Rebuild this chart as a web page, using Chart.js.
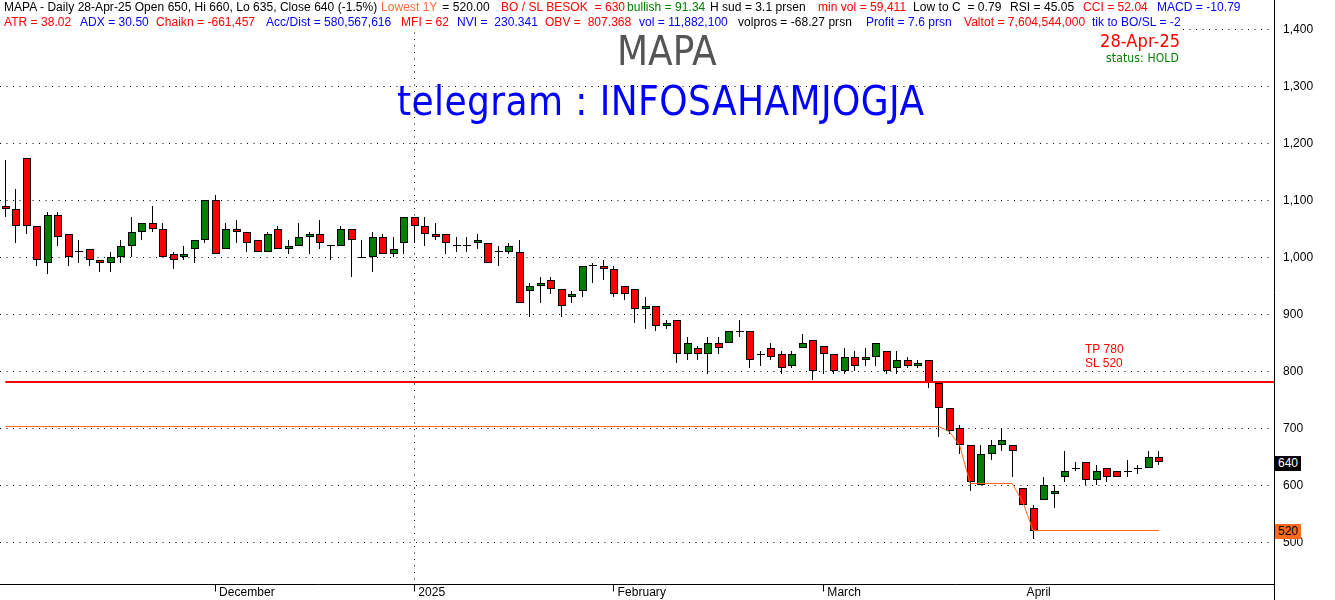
<!DOCTYPE html>
<html>
<head>
<meta charset="utf-8">
<title>MAPA</title>
<script src="https://cdn.jsdelivr.net/npm/chart.js@4"></script>
<style>
html, body { margin: 0; padding: 0; background: #fff; }
#wrap { position: relative; width: 1335px; height: 600px; overflow: hidden; font: 12px "Liberation Sans", Arial, sans-serif; letter-spacing: 0.04px; }
#wrap span { position: absolute; white-space: pre; line-height: 14px; }
#row2bg { position: absolute; left: 0; top: 0; width: 1180px; height: 32px; background: #fff; }
#axisEnd { position: absolute; left: 1274px; top: 584px; width: 1px; height: 16px; background: #000; }
canvas { position: absolute; left: 0; top: 0; }
.r { color: #ff0000; } .b { color: #0000ff; } .k { color: #000; } .g { color: #008000; } .o { color: #ff6a3c; }
#mapa { left: 617px; top: 28px; font: 40px "DejaVu Sans Condensed", "DejaVu Sans", sans-serif; font-stretch: condensed; color: #555; line-height: 46px !important; }
#tele { left: 397px; top: 78px; font: 40px "DejaVu Sans Condensed", "DejaVu Sans", sans-serif; font-stretch: condensed; letter-spacing: 0.42px; color: #0000ff; line-height: 46px !important; }
#date { left: 1100px; top: 31px; font: 18px "DejaVu Sans Condensed", "DejaVu Sans", sans-serif; font-stretch: condensed; letter-spacing: 0.1px; color: #ff0000; line-height: 20px !important; }
#stat { left: 1106px; top: 51px; font: 12px "DejaVu Sans Condensed", "DejaVu Sans", sans-serif; font-stretch: condensed; letter-spacing: 0.15px; color: #008000; }
.badge { left: 1275px; width: 26px; height: 15px; line-height: 15px !important; text-align: center; }
</style>
</head>
<body>
<div id="wrap">
<canvas id="grafica" width="1335" height="600"></canvas>
<div id="axisEnd"></div>
<div id="row2bg"></div>
<span class="k" style="left:4px;top:0">MAPA - Daily 28-Apr-25 Open 650, Hi 660, Lo 635, Close 640 (-1.5%)</span>
<span class="o" style="left:381px;top:0">Lowest 1Y</span>
<span class="k" style="left:439px;top:0"> = 520.00</span>
<span class="r" style="left:501px;top:0">BO / SL BESOK  = 630</span>
<span class="g" style="left:627px;top:0">bullish = 91.34</span>
<span class="k" style="left:710px;top:0">H sud = 3.1 prsen</span>
<span class="r" style="left:818px;top:0">min vol = 59,411</span>
<span class="k" style="left:913px;top:0">Low to C  = 0.79</span>
<span class="k" style="left:1010px;top:0">RSI = 45.05</span>
<span class="r" style="left:1083px;top:0">CCI = 52.04</span>
<span class="b" style="left:1157px;top:0">MACD = -10.79</span>
<span class="r" style="left:4px;top:15px">ATR = 38.02</span>
<span class="b" style="left:80px;top:15px">ADX = 30.50</span>
<span class="r" style="left:156px;top:15px">Chaikn = -661,457</span>
<span class="b" style="left:266px;top:15px">Acc/Dist = 580,567,616</span>
<span class="r" style="left:401px;top:15px">MFI = 62</span>
<span class="b" style="left:457px;top:15px">NVI =  230.341</span>
<span class="r" style="left:545px;top:15px">OBV =  807.368</span>
<span class="b" style="left:639px;top:15px">vol = 11,882,100</span>
<span class="k" style="left:738px;top:15px">volpros = -68.27 prsn</span>
<span class="b" style="left:866px;top:15px">Profit = 7.6 prsn</span>
<span class="r" style="left:964px;top:15px">Valtot = 7,604,544,000</span>
<span class="b" style="left:1092px;top:15px">tik to BO/SL = -2</span>
<span id="mapa">MAPA</span>
<span id="tele">telegram : INFOSAHAMJOGJA</span>
<span id="date">28-Apr-25</span>
<span id="stat">status: HOLD</span>
<span class="r" style="left:1085px;top:342px">TP 780</span>
<span class="r" style="left:1085px;top:356px">SL 520</span>
<span class="badge" style="top:456px;background:#000;color:#fff">640</span>
<span class="badge" style="top:524px;background:#ff6a1f;color:#000">520</span>
</div>
<script>
// daily candles, one entry per trading day
const opens = [1090,1085,1175,1055,990,1075,1040,1010,1015,995,990,1000,1020,1045,1060,1050,1005,1000,1015,1030,
    1100,1015,1050,1045,1030,1010,1050,1015,1020,1035,1040,1020,1020,1050,1000,1000,1035,1005,1025,1070,
    1055,1040,1040,1020,1020,1025,1025,1010,1010,1010,940,950,960,945,930,940,985,985,980,950,
    945,910,915,880,890,830,840,830,850,850,870,870,830,840,830,810,840,855,845,830,
    800,825,820,825,835,805,820,810,820,780,735,700,670,600,655,670,670,595,560,575,
    585,615,630,640,610,630,625,625,630,630,650];
const highs = [1170,1120,1175,1055,1080,1080,1040,1030,1015,995,1010,1030,1070,1060,1090,1060,1010,1020,1030,1100,
    1110,1060,1065,1045,1030,1045,1055,1030,1060,1045,1065,1020,1055,1050,1030,1045,1040,1035,1070,1070,
    1070,1060,1040,1035,1035,1040,1025,1020,1025,1030,955,965,965,945,940,985,990,995,985,950,
    945,930,915,890,890,860,845,860,860,870,890,870,835,850,835,835,865,855,845,830,
    840,835,840,850,835,835,825,820,820,780,735,705,670,670,680,700,670,595,565,615,
    600,660,640,640,635,630,625,645,635,660,660];
const lows = [1070,1025,1040,985,970,1020,985,990,985,975,975,990,1000,1030,1045,1000,980,995,990,1025,
    1005,1015,1025,1010,1010,1010,1015,1005,1020,1005,1015,995,1020,965,1000,975,1005,1000,1005,1025,
    1020,1030,1005,1010,1010,1015,990,985,1005,920,895,920,935,895,920,930,955,960,930,925,
    885,875,870,875,815,820,820,795,830,850,860,805,810,820,795,805,840,785,795,795,
    795,800,810,810,795,795,805,805,770,685,690,655,590,600,645,660,615,565,505,575,
    560,605,625,600,600,605,615,615,620,630,635];
const closes = [1085,1055,1055,995,1075,1035,1000,1010,995,990,1000,1020,1045,1060,1050,1000,995,1005,1030,1100,
    1005,1050,1045,1025,1010,1040,1015,1020,1035,1040,1025,1020,1050,1030,1000,1035,1005,1015,1070,1055,
    1040,1035,1025,1020,1020,1030,990,1010,1020,920,950,955,945,915,935,985,985,980,935,935,
    910,915,880,885,830,850,830,850,840,870,870,820,830,825,805,830,850,800,830,800,
    825,810,825,850,800,820,810,815,780,735,695,670,605,655,670,680,660,565,520,600,
    590,625,630,610,625,615,615,625,630,650,640];

const yTicks = [500,600,700,800,900,1000,1100,1200,1300,1400];
const monthTicks = [20,39,58,78,97];
const monthNames = ['December','2025','February','March','April'];

const tpLevel = 780;
const stopIdx = [0,89,90,91,92,96,97,98,110];
const stopVal = [703,703,695,670,603,603,571,520,520];

const xMin = -0.505, xMax = 120.97;
const yMin = 425.96, yMax = 1451.4;

const idx = opens.map((v, i) => i);
const isDoji = i => opens[i] === closes[i];
const wicks = idx.map(i => ({ x: i, y: [lows[i], highs[i]] }));
const bodyIdx = idx.filter(i => !isDoji(i));
const bodies = bodyIdx.map(i => ({ x: i, y: [opens[i], closes[i]] }));
const bodyColors = bodyIdx.map(i => closes[i] > opens[i] ? '#008000' : '#ff0000');
const dojis = idx.filter(isDoji).map(i => ({ x: i, y: opens[i] }));

// keep the candles on whole pixels so they stay sharp
const snapPixels = {
    id: 'snapPixels',
    afterDatasetsUpdate(chart) {
        chart.data.datasets.forEach((ds, n) => {
            chart.getDatasetMeta(n).data.forEach(el => {
                if (ds.type === 'bar') {
                    el.x = Math.floor(el.x) + (ds.barThickness === 1 ? 0.5 : 1);
                    el.y = Math.round(el.y);
                    el.base = Math.round(el.base);
                } else if (ds.type === 'scatter') {
                    el.x = Math.floor(el.x) + 1;
                    el.y = Math.floor(el.y) + 0.5;
                } else {
                    el.y = Math.floor(el.y) + (ds.borderWidth === 1 ? 0.5 : 0);
                }
            });
        });
    }
};

new Chart(document.getElementById('grafica'), {
    data: {
        datasets: [
            { type: 'bar', data: wicks, backgroundColor: '#000', borderWidth: 0, barThickness: 1, grouped: false, inflateAmount: 0, order: 5 },
            { type: 'bar', data: bodies, backgroundColor: bodyColors, borderColor: '#000', borderWidth: 1, borderSkipped: false, barThickness: 8, grouped: false, inflateAmount: 0, order: 4 },
            { type: 'scatter', data: dojis, pointStyle: 'line', pointRadius: 4, pointBorderColor: '#000', pointBorderWidth: 1, showLine: false, order: 3 },
            { type: 'line', data: stopIdx.map((x, i) => ({ x: x, y: stopVal[i] })), borderColor: '#ff6a1f', borderWidth: 1, pointRadius: 0, tension: 0, order: 2 },
            { type: 'line', data: [{ x: 0, y: tpLevel }, { x: xMax, y: tpLevel }], borderColor: '#ff0000', borderWidth: 2, pointRadius: 0, order: 1 }
        ]
    },
    plugins: [snapPixels],
    options: {
        responsive: false,
        animation: false,
        devicePixelRatio: 1,
        layout: { padding: 0, autoPadding: false },
        plugins: { legend: { display: false }, tooltip: { enabled: false } },
        scales: {
            x: {
                type: 'linear',
                offset: false,
                min: xMin,
                max: xMax,
                afterFit: s => { s.height = 15.5; },
                afterBuildTicks: s => { s.ticks = monthTicks.map(v => ({ value: v })); },
                border: { display: true, color: '#000', dash: [1, 5.5] },
                grid: {
                    offset: false,
                    color: c => c.tick && c.tick.value === 39 ? '#000' : 'rgba(0,0,0,0)',
                    // April has a label but no tick mark on the original
                    tickColor: c => c.tick && c.tick.value === 97 ? 'rgba(0,0,0,0)' : '#000',
                    tickLength: 7,
                    tickBorderDash: []
                },
                ticks: {
                    autoSkip: false,
                    maxRotation: 0,
                    align: 'start',
                    padding: -6,
                    labelOffset: 4,
                    color: '#000',
                    font: { family: '"Liberation Sans"', size: 12 },
                    callback: v => monthNames[monthTicks.indexOf(v)]
                }
            },
            y: {
                position: 'right',
                min: yMin,
                max: yMax,
                afterFit: s => { s.width = 61; s.paddingTop = 0; s.paddingBottom = 0; },
                afterBuildTicks: s => { s.ticks = yTicks.map(v => ({ value: v })); },
                border: { display: true, color: '#000', dash: [1, 5.5] },
                grid: { color: '#000', drawTicks: false },
                ticks: {
                    padding: 9,
                    color: '#000',
                    font: { family: '"Liberation Sans"', size: 12 },
                    callback: v => v.toLocaleString('en-US')
                }
            }
        }
    }
});
</script>
</body>
</html>
